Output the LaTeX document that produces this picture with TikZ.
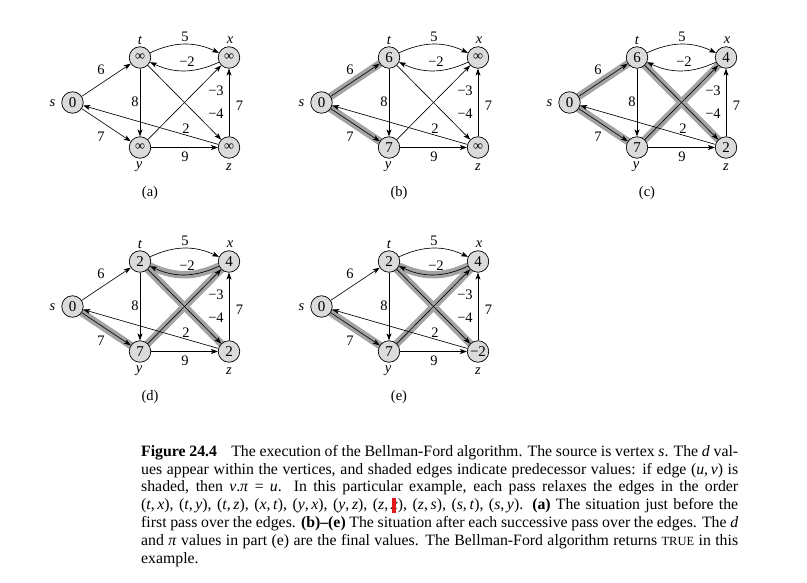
\documentclass[tikz,border=0pt]{standalone}
\usepackage{fontspec}
\setmainfont{Liberation Serif}
\usetikzlibrary{arrows.meta}
\pgfdeclarelayer{bg}
\pgfdeclarelayer{bands}
\pgfsetlayers{bg,bands,main}
\definecolor{vfill}{gray}{0.86}
\definecolor{bandgray}{gray}{0.64}
\definecolor{markred}{RGB}{225,25,25}
\newcommand\infval{{\fontsize{14}{14}\selectfont ∞}}
\tikzset{
  vtx/.style={circle, draw, line width=0.7pt, fill=vfill, minimum size=21.5pt, inner sep=0pt, font=\fontsize{15}{16}\selectfont},
  vname/.style={inner sep=0pt, font=\fontsize{14.5}{16}\selectfont\itshape},
  elab/.style={inner sep=0pt, font=\fontsize{14.5}{16}\selectfont},
  plab/.style={inner sep=0pt, font=\fontsize{14.5}{16}\selectfont},
  arr/.style={-{Stealth[length=7pt,width=5pt,inset=1.8pt]}, line width=0.65pt},
  band/.style={line width=7.5pt, draw=bandgray},
}
\newcommand\bfgraph[9]{%
\begin{scope}[shift={(#2,#3)}]
\node[vtx] (#1s) at (72.5,102.5) {#5};
\node[vtx] (#1t) at (140,57.5) {#6};
\node[vtx] (#1x) at (229,57.5) {#7};
\node[vtx] (#1y) at (140,147.5) {#8};
\node[vtx] (#1z) at (229,147.5) {#9};
\node[vname] (#1sn) at (52.5,103) {s};
\node[vname] (#1tn) at (140,40) {t};
\node[vname] (#1xn) at (230,40) {x};
\node[vname] (#1yn) at (139,167) {y};
\node[vname] (#1zn) at (229,167) {z};
\draw[arr] (#1t) to[bend left=25] (#1x);
\draw[arr] (#1x) to[bend left=25] (#1t);
\draw[arr] (#1s) -- (#1t);
\draw[arr] (#1s) -- (#1y);
\draw[arr] (#1t) -- (#1y);
\draw[arr] (#1t) -- (#1z);
\draw[arr] (#1y) -- (#1x);
\draw[arr] (#1y) -- (#1z);
\draw[arr] (#1z) -- (#1x);
\draw[arr] (#1z) -- (#1s);
\node[elab] (#1l5) at (185,37) {5};
\node[elab] (#1lm2) at (187,62) {−2};
\node[elab] (#1l6) at (101,70) {6};
\node[elab] (#1l7a) at (101,137) {7};
\node[elab] (#1l8) at (135,102) {8};
\node[elab] (#1lm3) at (216,91) {−3};
\node[elab] (#1lm4) at (216,114) {−4};
\node[elab] (#1l7b) at (239.5,106) {7};
\node[elab] (#1l2) at (186,129) {2};
\node[elab] (#1l9) at (185,157) {9};
\node[plab] (#1lab) at (150,193) {#4};
\end{scope}}
\newcommand\pr[2]{(\textit{#1},\thinspace\textit{#2})}
\begin{document}
\begin{tikzpicture}[x=1pt,y=-1pt]
\useasboundingbox (0,0) rectangle (807,583);
\begin{pgfonlayer}{bg}
\fill[white] (0,0) rectangle (807,583);
\end{pgfonlayer}
% (a)
\bfgraph{a}{0}{0}{(a)}{0}{\infval}{\infval}{\infval}{\infval}
% (b)
\bfgraph{b}{249}{0}{(b)}{0}{6}{\infval}{7}{\infval}
\begin{pgfonlayer}{bands}
\draw[band] (bs.center) -- (bt.center);
\draw[band] (bs.center) -- (by.center);
\end{pgfonlayer}
% (c)
\bfgraph{c}{497}{0}{(c)}{0}{6}{4}{7}{2}
\begin{pgfonlayer}{bands}
\draw[band] (cs.center) -- (ct.center);
\draw[band] (cs.center) -- (cy.center);
\draw[band] (cy.center) -- (cx.center);
\draw[band] (ct.center) -- (cz.center);
\end{pgfonlayer}
% (d)
\bfgraph{d}{0}{204}{(d)}{0}{2}{4}{7}{2}
\begin{pgfonlayer}{bands}
\draw[band] (ds.center) -- (dy.center);
\draw[band] (dy.center) -- (dx.center);
\draw[band] (dt.center) -- (dz.center);
\draw[band] (dx) to[bend left=25] (dt);
\end{pgfonlayer}
% (e)
\bfgraph{e}{249}{204}{(e)}{0}{2}{4}{7}{−2}
\begin{pgfonlayer}{bands}
\draw[band] (es.center) -- (ey.center);
\draw[band] (ey.center) -- (ex.center);
\draw[band] (et.center) -- (ez.center);
\draw[band] (ex) to[bend left=25] (et);
\end{pgfonlayer}
% caption
\node[anchor=north west, inner sep=0pt, text width=597pt, align=justify,
      font=\fontsize{15.8}{17.8}\selectfont] (cap) at (141,445)
{\hyphenpenalty=10000 \tolerance=10000 \emergencystretch=0pt
\textbf{Figure 24.4}\hspace{0.9em}The execution of the Bellman-Ford algorithm. The source is vertex \textit{s}. The \textit{d} val-\linebreak
ues appear within the vertices, and shaded edges indicate predecessor values: if edge \pr{u}{v} is\linebreak
shaded, then \textit{v}.\textit{π} = \textit{u}. In this particular example, each pass relaxes the edges in the order\linebreak
\pr{t}{x}, \pr{t}{y}, \pr{t}{z}, \pr{x}{t}, \pr{y}{x}, \pr{y}{z}, (\textit{z},\thinspace\textit{x}\llap{\textcolor{markred}{\rule[-3pt]{4pt}{14.5pt}}\hspace{1.5pt}}), \pr{z}{s}, \pr{s}{t}, \pr{s}{y}. \textbf{(a)} The situation just before the\linebreak
first pass over the edges. \textbf{(b)–(e)} The situation after each successive pass over the edges. The \textit{d}\linebreak
and \textit{π} values in part (e) are the final values. The Bellman-Ford algorithm returns {\fontsize{12.5}{14}\selectfont TRUE} in this\linebreak
example.};
\end{tikzpicture}
\end{document}
